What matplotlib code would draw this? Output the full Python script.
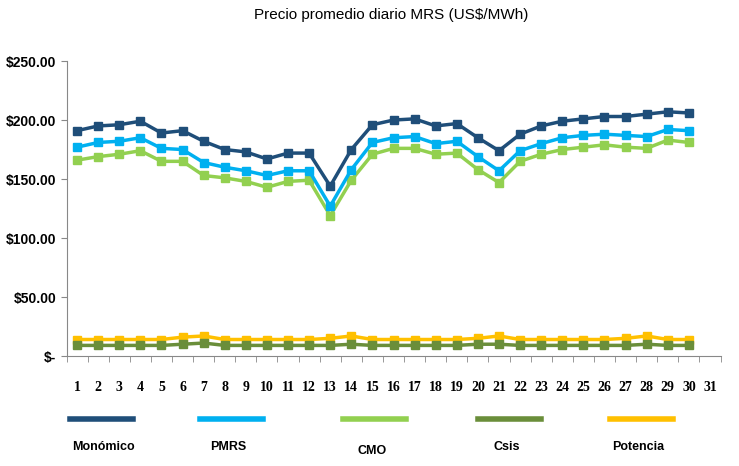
import matplotlib
matplotlib.use("Agg")
import matplotlib.pyplot as plt
from matplotlib.lines import Line2D

days = list(range(1, 31))
monomico = [191,195,196,199,189,191,182,175,173,167,172,172,144,175,196,200,201,195,197,185,174,188,195,199,201,203,203,205,207,206]
pmrs = [177,181,182,185,176,175,164,160,157,153,157,157,127,158,181,185,186,180,182,169,157,174,180,185,187,188,187,186,192,191]
cmo = [166,169,171,174,165,165,153,151,148,143,148,149,119,149,171,176,176,171,172,158,147,165,171,175,177,179,177,176,183,181]
csis = [9,9,9,9,9,10,11,9,9,9,9,9,9,10,9,9,9,9,9,10,10,9,9,9,9,9,9,10,9,9]
potencia = [14,14,14,14,14,16,17,14,14,14,14,14,15,17,14,14,14,14,14,15,17,14,14,14,14,14,15,17,14,14]
names = ["Monómico", "PMRS", "CMO", "Csis", "Potencia"]
colors = ["#1F4E79", "#00B0F0", "#92D050", "#6A8E3A", "#FFC000"]
yticks = [0, 50, 100, 150, 200, 250]
ylabels = ["$-", "$50.00", "$100.00", "$150.00", "$200.00", "$250.00"]

fig = plt.figure(figsize=(7.39, 4.66), dpi=100)
ax = fig.add_axes([0.09, 0.236, 0.885, 0.633])
series = [monomico, pmrs, cmo, csis, potencia]
for vals, c in zip(series[::-1], colors[::-1]):
    ax.plot(days, vals, color=c, lw=2.5, marker="s", ms=6)
ax.set_xlim(0.5, 31.5)
ax.set_ylim(0, 250)
ax.set_yticks(yticks)
ax.set_yticklabels(ylabels, fontsize=10, fontweight="bold", family="Liberation Sans")
ax.set_xticks(range(1, 32))
ax.set_xticklabels([str(i) for i in range(1, 32)], fontsize=10, fontweight="bold", family="Liberation Serif")
ax.set_xticks([i + 0.5 for i in range(0, 32)], minor=True)
ax.tick_params(axis="x", which="major", length=0, pad=18)
ax.tick_params(axis="x", which="minor", length=4, color="#888888")
ax.tick_params(axis="y", length=4, color="#888888")
for s in ["top", "right"]:
    ax.spines[s].set_visible(False)
for s in ["left", "bottom"]:
    ax.spines[s].set_color("#888888")
fig.text(0.53, 0.96, "Precio promedio diario MRS (US$/MWh)", ha="center", fontsize=11, family="Liberation Sans")

line_x = [70, 200, 343, 478, 610]
label_x = [72, 210, 357, 493, 612]
label_y = [0.035, 0.035, 0.025, 0.035, 0.035]
W = 739.0
for lx, tx, ty, n, c in zip(line_x, label_x, label_y, names, colors):
    fig.add_artist(Line2D([lx / W, (lx + 63) / W], [0.1, 0.1], color=c, lw=4))
    fig.text(tx / W, ty, n, fontsize=9, fontweight="bold", family="Liberation Sans")
fig.savefig("out.png", dpi=100)
